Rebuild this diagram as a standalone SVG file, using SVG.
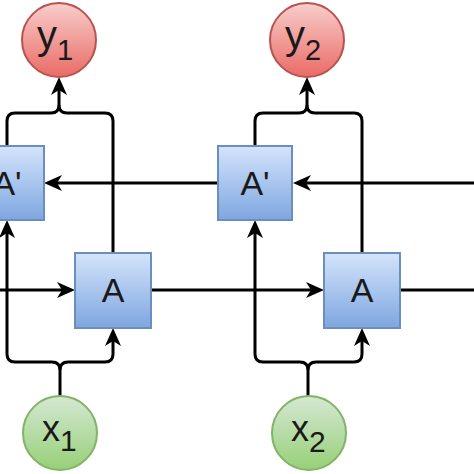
<svg xmlns="http://www.w3.org/2000/svg" width="474" height="474" viewBox="0 0 474 474">
<style>
.box{fill:url(#gb);stroke:#6c8ebf;stroke-width:2}
.out{fill:url(#gr);stroke:#b85450;stroke-width:2}
.in{fill:url(#gg);stroke:#82b366;stroke-width:2}
.lbl{font-family:"Liberation Sans",Arial,sans-serif;fill:#1a1a1a}
.c{fill:none;stroke:#000;stroke-width:3}
.a{marker-end:url(#arr)}
</style>
<defs>
<linearGradient id="gb" x1="0" y1="0" x2="0" y2="1"><stop offset="0" stop-color="#d4e4fb"/><stop offset="1" stop-color="#7ea6e0"/></linearGradient>
<linearGradient id="gr" x1="0" y1="0" x2="0" y2="1"><stop offset="0" stop-color="#f8cecc"/><stop offset="1" stop-color="#ea6b66"/></linearGradient>
<linearGradient id="gg" x1="0" y1="0" x2="0" y2="1"><stop offset="0" stop-color="#d5e8d4"/><stop offset="1" stop-color="#97d077"/></linearGradient>
<marker id="arr" markerUnits="userSpaceOnUse" viewBox="0 0 18 16" markerWidth="18" markerHeight="16" refX="8" refY="8" orient="auto">
<path d="M0,0 L18,8 L0,16 L5,8 Z" fill="#000"/>
</marker>
</defs>
<g id="connectors">
<!-- horizontal A' row -->
<path class="c a" d="M474,183 H303"/>
<path class="c a" d="M218,183 H54"/>
<!-- horizontal A row -->
<path class="c a" d="M0,290 H65"/>
<path class="c a" d="M151,290 H314"/>
<path class="c" d="M400,290 H474"/>
<!-- y1 fork -->
<path class="c a" d="M7,146 V121 Q7,113 15,113 H51 Q59,113 59,105 V87"/>
<path class="c" d="M113,253 V121 Q113,113 105,113 H67 Q59,113 59,105"/>
<!-- y2 fork -->
<path class="c a" d="M255,146 V121 Q255,113 263,113 H299 Q307,113 307,105 V87"/>
<path class="c" d="M362,253 V121 Q362,113 354,113 H315 Q307,113 307,105"/>
<!-- x1 fork -->
<path class="c a" d="M60,396 V370 Q60,362 52,362 H15 Q7,362 7,354 V230"/>
<path class="c a" d="M60,370 Q60,362 68,362 H105 Q113,362 113,354 V338"/>
<!-- x2 fork -->
<path class="c a" d="M308,396 V370 Q308,362 300,362 H263 Q255,362 255,354 V230"/>
<path class="c a" d="M308,370 Q308,362 316,362 H354 Q362,362 362,354 V338"/>
</g>
<g id="y1"><circle class="out" cx="59" cy="40" r="37"/><text class="lbl" x="37" y="49"><tspan font-size="40">y</tspan><tspan font-size="29" dy="11">1</tspan></text></g>
<g id="y2"><circle class="out" cx="307" cy="40" r="37"/><text class="lbl" x="285" y="49"><tspan font-size="40">y</tspan><tspan font-size="29" dy="11">2</tspan></text></g>
<g id="Aprime1"><rect class="box" x="-30" y="146" width="74" height="74"/><text class="lbl" x="7" y="195" font-size="34" text-anchor="middle">A'</text></g>
<g id="Aprime2"><rect class="box" x="218" y="146" width="74" height="74"/><text class="lbl" x="255" y="195" font-size="34" text-anchor="middle">A'</text></g>
<g id="A1"><rect class="box" x="75" y="253" width="76" height="75"/><text class="lbl" x="113" y="302" font-size="34" text-anchor="middle">A</text></g>
<g id="A2"><rect class="box" x="324" y="253" width="76" height="75"/><text class="lbl" x="362" y="302" font-size="34" text-anchor="middle">A</text></g>
<g id="x1"><circle class="in" cx="60" cy="433" r="37"/><text class="lbl" x="42" y="441"><tspan font-size="36">x</tspan><tspan font-size="30" dy="10">1</tspan></text></g>
<g id="x2"><circle class="in" cx="309" cy="433" r="37"/><text class="lbl" x="291" y="441"><tspan font-size="36">x</tspan><tspan font-size="30" dy="11">2</tspan></text></g>
</svg>
